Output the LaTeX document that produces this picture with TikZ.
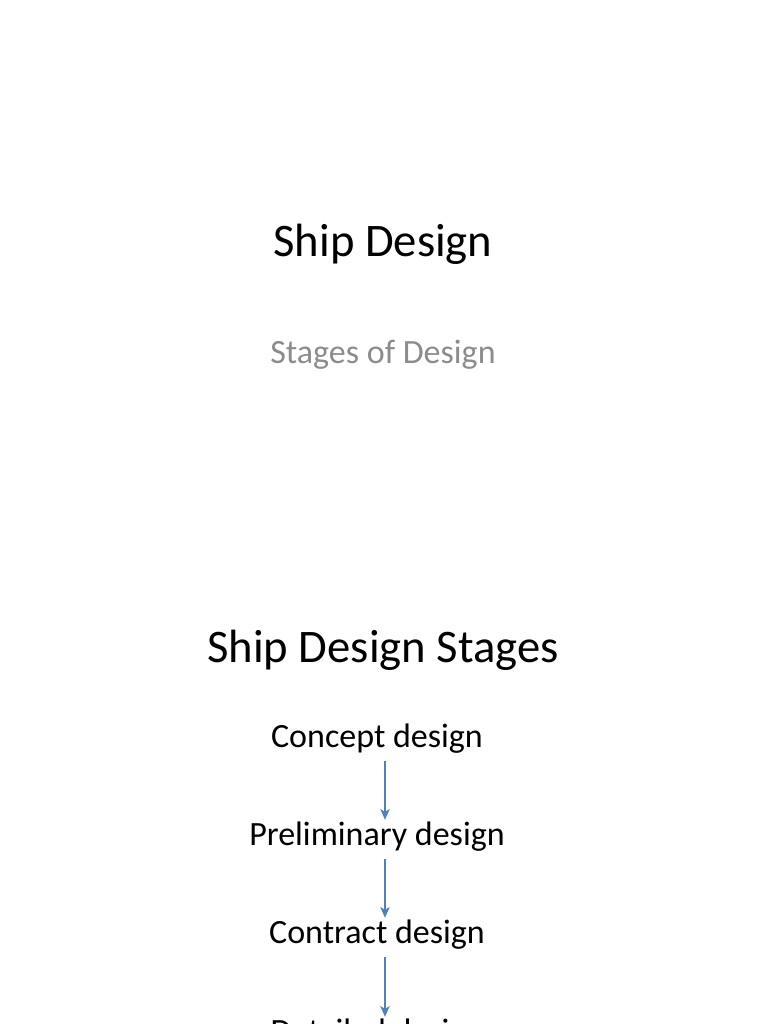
\documentclass[tikz,border=0pt]{standalone}
\usepackage{fontspec}
\setmainfont{Carlito}
\usetikzlibrary{arrows.meta}
\definecolor{subgray}{HTML}{8C8C8C}
\definecolor{flowblue}{HTML}{4F81BD}

\begin{document}
\begin{tikzpicture}[x=0.75pt, y=-0.75pt, >={Stealth[length=8pt,width=7pt,inset=2pt]},
    title/.style={font=\fontsize{35}{42}\selectfont, anchor=base, inner sep=0pt},
    subtitle/.style={font=\fontsize{25.5}{30}\selectfont, text=subgray, anchor=base, inner sep=0pt},
    stage/.style={font=\fontsize{25.5}{30}\selectfont, anchor=base, inner sep=0pt},
    flow/.style={->, draw=flowblue, fill=flowblue, line width=1.3pt, shorten <=6pt, shorten >=1pt}
]
  \useasboundingbox (0,0) rectangle (768,1024);
  \clip (0,0) rectangle (768,1024);

  \node[title] (t1) at (383,256) {Ship Design};
  \node[subtitle] (s1) at (383,363) {Stages of Design};

  \node[title] (t2) at (383,662) {Ship Design Stages};

  \foreach \y/\txt/\name in {747/Concept design/concept, 845/Preliminary design/prelim,
                             943/Contract design/contract, 1042/Detailed design/detail}{
    \node[stage] (\name) at (377,\y) {\txt};
  }

  \draw[flow] ([xshift=6pt]concept.south) -- ([xshift=6pt]prelim.north);
  \draw[flow] ([xshift=6pt]prelim.south) -- ([xshift=6pt]contract.north);
  \draw[flow] ([xshift=6pt]contract.south) -- ([xshift=6pt]detail.north);
\end{tikzpicture}
\end{document}
